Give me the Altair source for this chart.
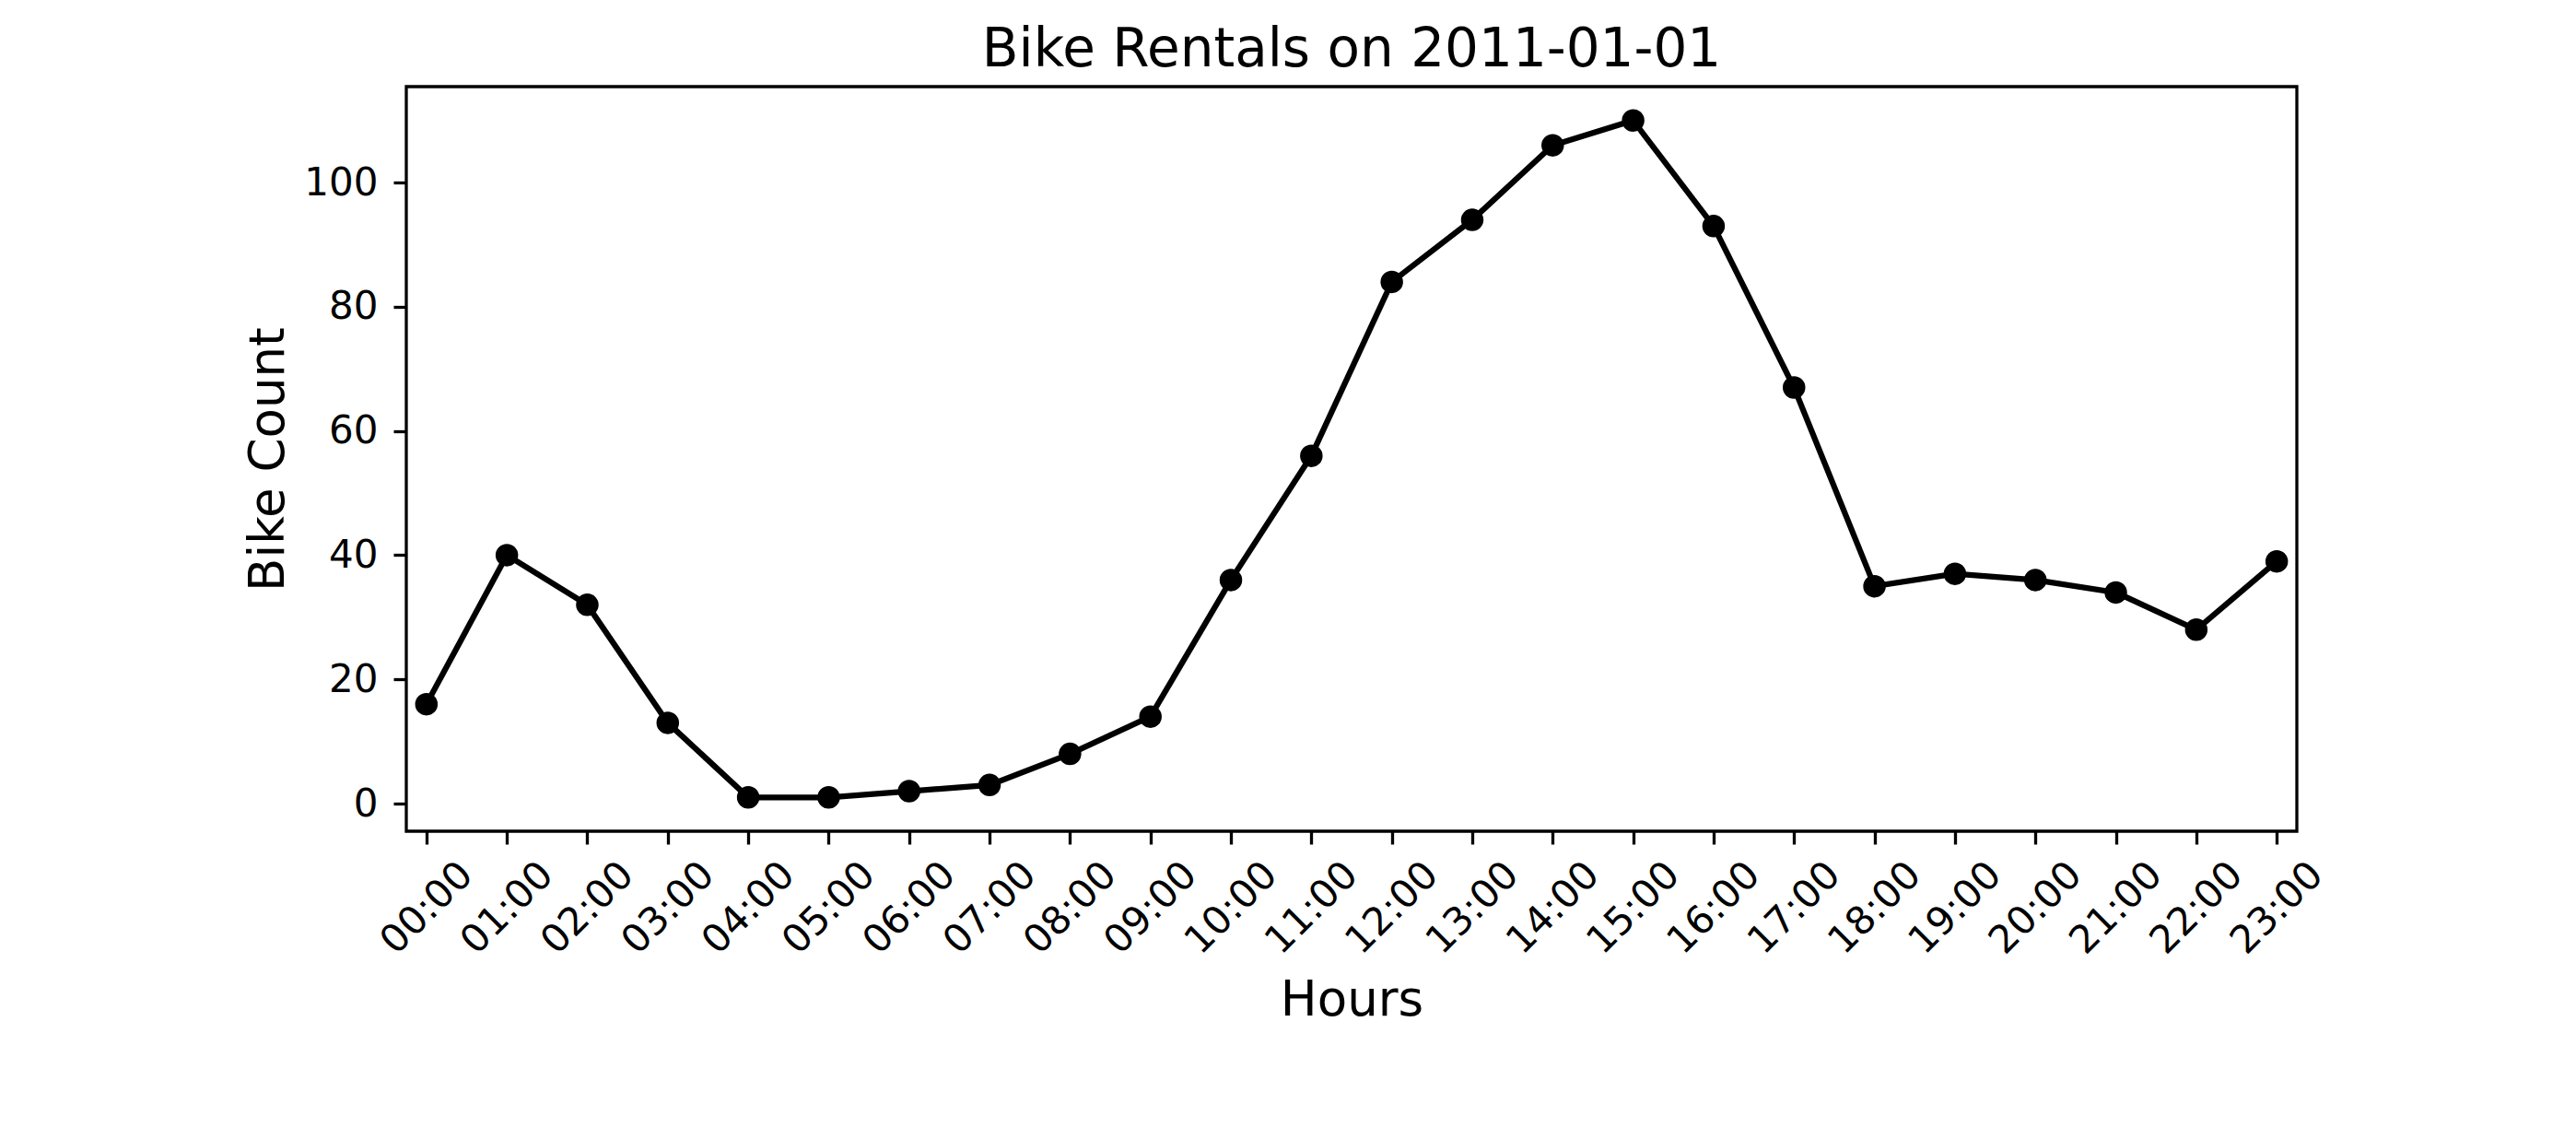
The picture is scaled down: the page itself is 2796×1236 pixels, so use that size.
import altair as alt
import pandas as pd

hours = ["00:00", "01:00", "02:00", "03:00", "04:00", "05:00", "06:00", "07:00",
         "08:00", "09:00", "10:00", "11:00", "12:00", "13:00", "14:00", "15:00",
         "16:00", "17:00", "18:00", "19:00", "20:00", "21:00", "22:00", "23:00"]
counts = [16, 40, 32, 13, 1, 1, 2, 3, 8, 14, 36, 56, 84, 94, 106, 110,
          93, 67, 35, 37, 36, 34, 28, 39]
y_ticks = [0, 20, 40, 60, 80, 100]

df = pd.DataFrame({"hour": hours, "count": counts})

FONT = "DejaVu Sans"
W, H = 2052, 808

x = alt.X(
    "hour:O",
    sort=hours,
    scale=alt.Scale(type="point", padding=0.25),
    axis=alt.Axis(
        title="Hours",
        titleFont=FONT, titleFontSize=53, titleFontWeight="normal", titleColor="black",
        titleX=W / 2, titleY=199, titleBaseline="alphabetic", titleAlign="center",
        labelFont=FONT, labelFontSize=42, labelColor="black",
        labelAngle=-45, labelAlign="center", labelBaseline="middle",
        labelPadding=69, tickSize=14, tickWidth=3.3, tickColor="black",
        domain=False, grid=False, labelOverlap=False,
    ),
)
y = alt.Y(
    "count:Q",
    scale=alt.Scale(domain=[-4.45, 115.45], nice=False, zero=False),
    axis=alt.Axis(
        title="Bike Count", values=y_ticks,
        titleFont=FONT, titleFontSize=53, titleFontWeight="normal", titleColor="black",
        titleX=-134, titleY=H / 2, titleAngle=-90, titleBaseline="alphabetic", titleAlign="center",
        labelFont=FONT, labelFontSize=42, labelColor="black",
        labelPadding=17, tickSize=14, tickWidth=3.3, tickColor="black",
        domain=False, grid=False,
    ),
)

base = alt.Chart(df).encode(x=x, y=y)
line = base.mark_line(color="black", strokeWidth=6.25)
pts = base.mark_circle(color="black", size=600, opacity=1)

chart = (line + pts).properties(
    width=W, height=H,
    background="white",
    title=alt.TitleParams(
        "Bike Rentals on 2011-01-01", font=FONT, fontSize=58, fontWeight="normal",
        color="black", anchor="middle", baseline="alphabetic", offset=22, dy=58,
    ),
    autosize=alt.AutoSizeParams(type="none"),
    padding={"left": 433, "top": 86, "right": 295, "bottom": 326},
).configure_view(stroke="black", strokeWidth=3.3)

chart.save("out.html", embed_options={"renderer": "svg", "actions": False})
